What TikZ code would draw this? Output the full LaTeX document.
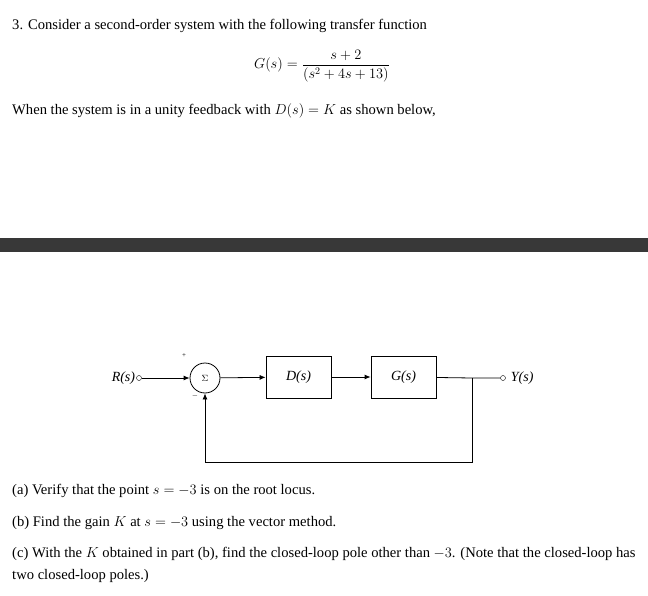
\documentclass[tikz,border=0pt]{standalone}
\usepackage{fontspec}
\setmainfont{Liberation Serif}
\usetikzlibrary{arrows.meta}
\begin{document}
\begin{tikzpicture}[x=1pt,y=-1pt,
  txt/.style={anchor=base west,inner sep=0pt,font=\fontsize{14.6}{17}\selectfont},
  blk/.style={draw,thick,minimum width=65pt,minimum height=42pt,font=\fontsize{14}{16}\selectfont\itshape},
  term/.style={draw,circle,inner sep=0pt,minimum size=5pt,fill=white},
  arr/.style={-{Latex[length=6pt,width=5pt]},thick}]
\useasboundingbox (0,0) rectangle (648,596);
\node[txt] (l1) at (12,30) {3. Consider a second-order system with the following transfer function};
\node[anchor=center,inner sep=0pt,font=\fontsize{14.5}{17}\selectfont] (eq) at (322,66) {$\displaystyle G(s)=\frac{s+2}{(s^2+4s+13)}$};
\node[txt] (l2) at (12,115) {When the system is in a unity feedback with $D(s)=K$ as shown below,};
\fill[black!78] (0,238) rectangle (648,252);
\node[term] (r) at (139,378) {};
\node[anchor=east,inner sep=1pt,font=\fontsize{14}{16}\selectfont\itshape] (rl) at (r.west) {R(s)};
\node[draw,thick,circle,minimum size=30pt,inner sep=0pt,font=\small] (sum) at (205,378) {$\Sigma$};
\node[font=\scriptsize] (pl) at (184,356) {+};
\node[font=\scriptsize] (mi) at (195,396) {$-$};
\node[blk] (d) at (298.5,377) {D(s)};
\node[blk] (g) at (403.5,377) {G(s)};
\coordinate (br) at (472,378);
\coordinate (bb) at (472,462);
\coordinate (sb) at (205,462);
\node[term] (y) at (503,378) {};
\node[anchor=west,inner sep=5pt,font=\fontsize{14}{16}\selectfont\itshape] (yl) at (y.east) {Y(s)};
\draw[arr] (r) -- (sum);
\draw[arr] (sum) -- (d);
\draw[arr] (d) -- (g);
\draw[thick] (g) -- (br) -- (y);
\draw[arr] (br) -- (bb) -- (sb) -- (sum);
\node[txt] (a) at (12,494) {(a) Verify that the point $s=-3$ is on the root locus.};
\node[txt] (b) at (12,526) {(b) Find the gain $K$ at $s=-3$ using the vector method.};
\node[txt] (c) at (12,557) {(c) With the $K$ obtained in part (b), find the closed-loop pole other than $-3$. (Note that the closed-loop has};
\node[txt] (c2) at (12,579) {two closed-loop poles.)};
\end{tikzpicture}
\end{document}
